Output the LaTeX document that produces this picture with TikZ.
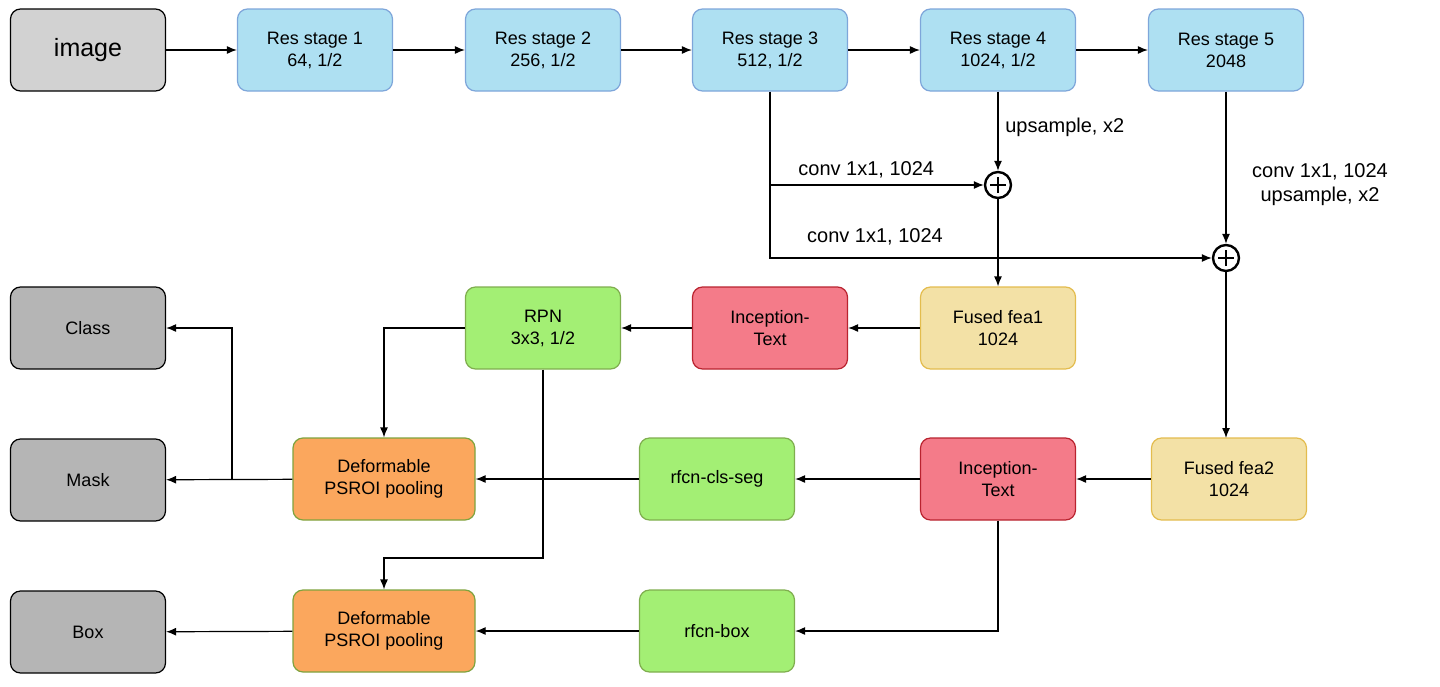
\documentclass[tikz,border=0pt]{standalone}
\usepackage{fontspec}
\setmainfont{Liberation Sans}
\usetikzlibrary{arrows.meta}
\definecolor{resfill}{HTML}{AEE0F2}\definecolor{resdraw}{HTML}{7EA6DA}
\definecolor{grayfill}{HTML}{B5B5B5}\definecolor{imgfill}{HTML}{D2D2D2}
\definecolor{fusfill}{HTML}{F3E1A6}\definecolor{fusdraw}{HTML}{E3BC4E}
\definecolor{incfill}{HTML}{F47B89}\definecolor{incdraw}{HTML}{B9232F}
\definecolor{grnfill}{HTML}{A3EF74}\definecolor{grndraw}{HTML}{7FAE4E}
\definecolor{orgfill}{HTML}{FBA75D}\definecolor{orgdraw}{HTML}{7FA33E}
\begin{document}
\begin{tikzpicture}[x=0.5pt,y=-0.5pt,
  box/.style={draw, rounded corners=5pt, line width=0.6pt, minimum width=77.5pt, minimum height=41pt, align=center, font=\fontsize{9}{11}\selectfont},
  res/.style={box, fill=resfill, draw=resdraw},
  gry/.style={box, fill=grayfill, draw=black},
  fus/.style={box, fill=fusfill, draw=fusdraw},
  inc/.style={box, fill=incfill, draw=incdraw},
  grn/.style={box, fill=grnfill, draw=grndraw},
  org/.style={box, fill=orgfill, draw=orgdraw, minimum width=91pt},
  plus/.style={circle, draw, line width=1.2pt, minimum size=13pt, inner sep=0pt},
  lab/.style={font=\fontsize{10}{12}\selectfont, align=center},
  arr/.style={-{Latex[length=5pt,width=4pt]}, line width=0.6pt}]
\useasboundingbox (0,0) rectangle (1440,686);
\node[gry, fill=imgfill, font=\fontsize{12.5}{14}\selectfont] (img) at (88,50) {image};
\node[res] (r1) at (315,50) {Res stage 1\\64, 1/2};
\node[res] (r2) at (543,50) {Res stage 2\\256, 1/2};
\node[res] (r3) at (770,50) {Res stage 3\\512, 1/2};
\node[res] (r4) at (998,50) {Res stage 4\\1024, 1/2};
\node[res] (r5) at (1226,50) {Res stage 5\\2048};
\node[plus] (p1) at (998,185) {};
\node[plus] (p2) at (1226,258) {};
\foreach \p in {p1,p2}{
  \draw[line width=1.2pt] ([xshift=-4pt]\p.center) -- ([xshift=4pt]\p.center) ([yshift=-4pt]\p.center) -- ([yshift=4pt]\p.center);}
\node[fus] (f1) at (998,328) {Fused fea1\\1024};
\node[inc] (i1) at (770,328) {Inception-\\Text};
\node[grn] (rpn) at (543,328) {RPN\\3x3, 1/2};
\node[gry] (cls) at (88,328) {Class};
\node[gry] (msk) at (88,480) {Mask};
\node[gry] (bx) at (88,632) {Box};
\node[org] (d1) at (384,479) {Deformable\\PSROI pooling};
\node[grn] (cs) at (717,479) {rfcn-cls-seg};
\node[inc] (i2) at (998,479) {Inception-\\Text};
\node[fus] (f2) at (1229,479) {Fused fea2\\1024};
\node[org] (d2) at (384,631) {Deformable\\PSROI pooling};
\node[grn] (rb) at (717,631) {rfcn-box};
\draw[arr] (img) -- (r1);
\draw[arr] (r1) -- (r2);
\draw[arr] (r2) -- (r3);
\draw[arr] (r3) -- (r4);
\draw[arr] (r4) -- (r5);
\draw[arr] (r4) -- node[lab, right, pos=0.45] {upsample, x2} (p1);
\coordinate (b1) at (770,185);
\draw[arr] (r3) |- (p2.west);
\draw[arr] (b1) -- node[lab, above, pos=0.45] {conv 1x1, 1024} (p1);
\node[lab] at (875,237) {conv 1x1, 1024};
\draw[arr] (r5) -- (p2);
\node[lab] at (1320,185) {conv 1x1, 1024\\upsample, x2};
\draw[arr] (p1) -- (f1);
\draw[arr] (p2) -- (1226,438);
\draw[arr] (f1) -- (i1);
\draw[arr] (i1) -- (rpn);
\draw[arr] (rpn.west) -| (d1.north);
\draw[arr] (rpn.south) -- (543,558) -| (d2.north);
\draw[arr] (f2) -- (i2);
\draw[arr] (i2) -- (cs);
\draw[arr] (cs) -- (d1);
\draw[arr] (d1) -- (msk);
\coordinate (b2) at (232,479);
\draw[arr] (b2) |- (cls.east);
\draw[arr] (i2.south) |- (rb.east);
\draw[arr] (rb) -- (d2);
\draw[arr] (d2) -- (bx);
\end{tikzpicture}
\end{document}
